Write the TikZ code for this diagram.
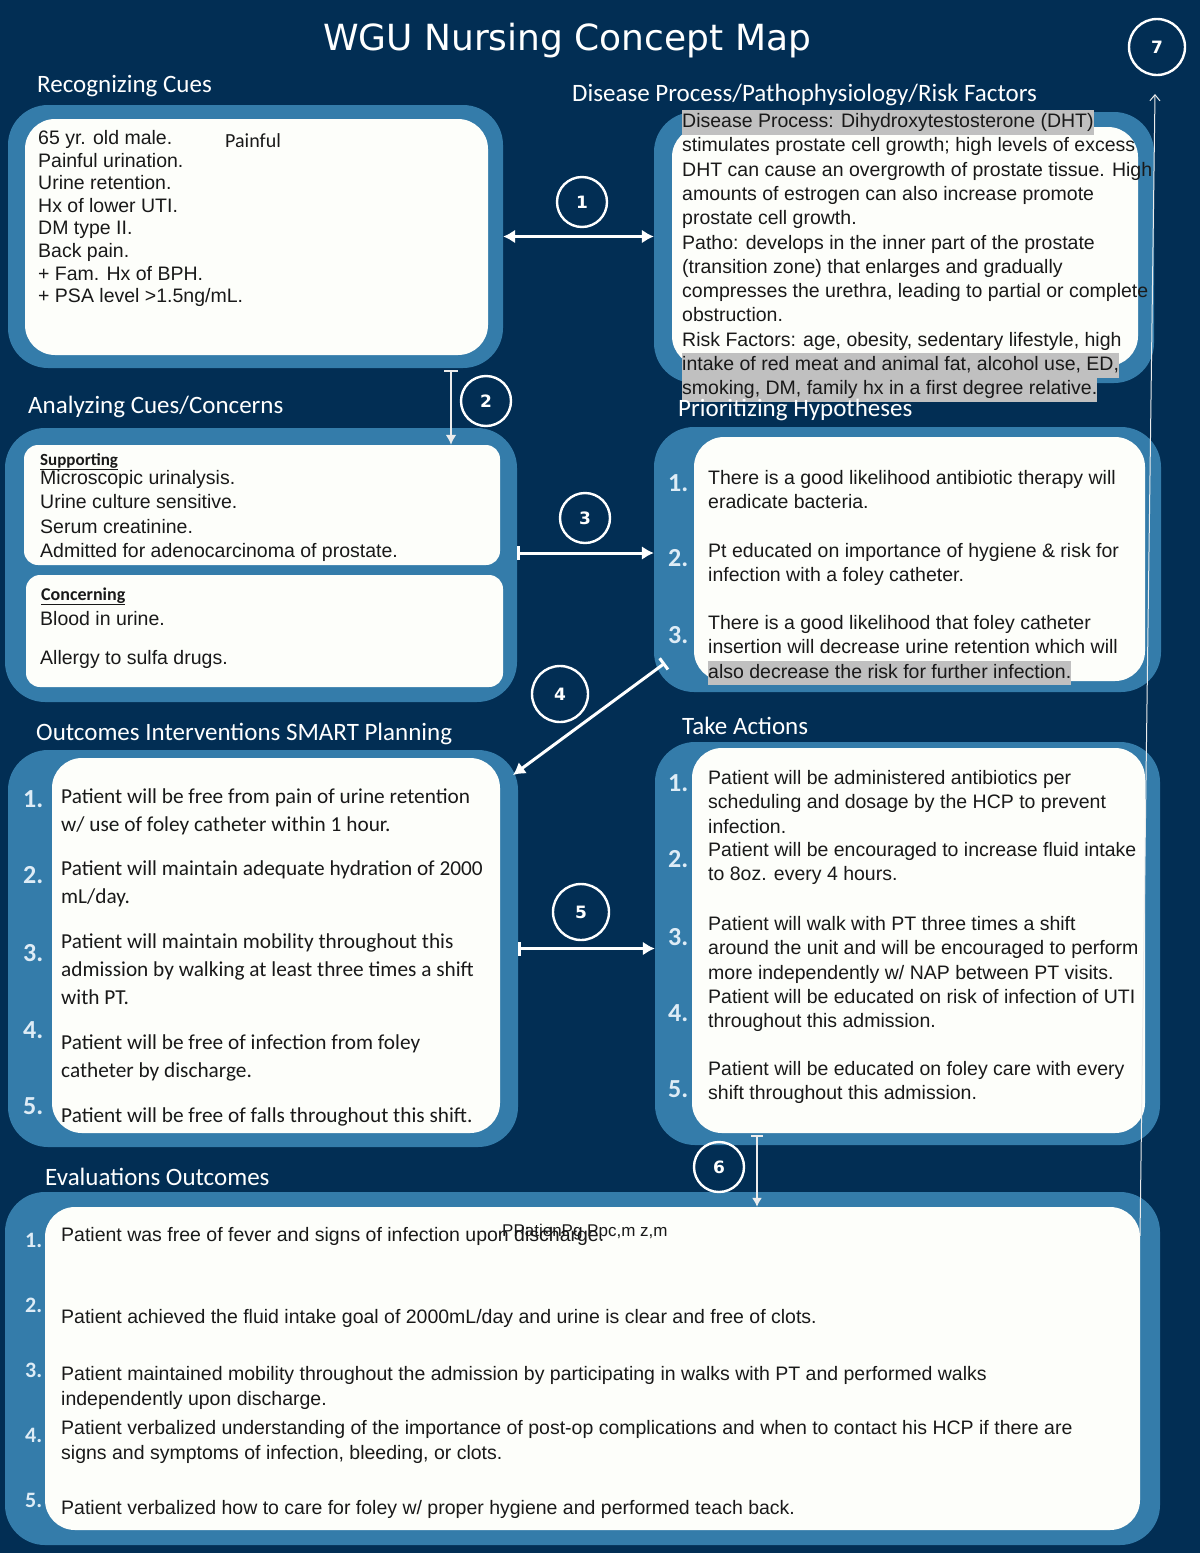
\documentclass[tikz,border=0pt]{standalone}
\usepackage{fontspec}
\setmainfont{Liberation Sans}
\newfontfamily\calib{Carlito}
\newfontfamily\headfont{DejaVu Sans}
\usetikzlibrary{arrows.meta}
\definecolor{navy}{RGB}{2,46,84}
\definecolor{ringblue}{RGB}{52,124,170}
\definecolor{paper}{RGB}{253,254,250}
\definecolor{hlgray}{RGB}{192,192,192}
\definecolor{ink}{RGB}{25,25,25}
\definecolor{numwhite}{RGB}{222,236,246}
\newcommand\hlt[1]{{\setlength\fboxsep{0pt}\colorbox{hlgray}{\strut#1}}}

\begin{document}
\begin{tikzpicture}[x=1pt,y=-1pt,
  ring/.style={fill=ringblue, rounded corners=40pt, inner sep=0pt},
  sheet/.style={fill=paper, rounded corners=30pt, inner sep=0pt},
  slip/.style={fill=paper, rounded corners=14pt, inner sep=0pt},
  body/.style={anchor=base west, align=left, inner sep=0pt, text=ink, font=\fontsize{19.5}{24.3}\selectfont},
  outline/.style={anchor=base west, align=left, inner sep=0pt, text=ink, font=\calib\fontsize{21.3}{28}\selectfont},
  heading/.style={anchor=base west, inner sep=0pt, text=white, font=\calib\fontsize{25}{25}\selectfont},
  num/.style={anchor=base west, inner sep=0pt, text=numwhite, font=\calib\bfseries\fontsize{26}{26}\selectfont},
  tag/.style={anchor=base west, inner sep=0pt, text=ink, font=\calib\bfseries\fontsize{17}{17}\selectfont},
  badge/.style={circle, draw=white, line width=2.4pt, minimum size=50pt, inner sep=0pt, text=white, font=\headfont\bfseries\fontsize{17}{17}\selectfont},
  fat/.style={draw=white, line width=3pt}]
  \useasboundingbox (0,0) rectangle (1200,1553);
  \fill[navy] (0,0) rectangle (1200,1553);

  \node[anchor=base, inner sep=0pt, text=white, font=\headfont\fontsize{36}{36}\selectfont] (title) at (567,50) {WGU Nursing Concept Map};
  \node[badge, minimum size=56pt] (n7) at (1157,47) {7};

  \node[heading] (h1) at (37,92) {Recognizing Cues};
  \node[heading] (h2) at (572,101) {Disease Process/Pathophysiology/Risk Factors};
  \node[heading] (h3) at (28,413) {Analyzing Cues/Concerns};
  \node[heading] (h5) at (36,740) {Outcomes Interventions SMART Planning};
  \node[heading] (h6) at (682,734) {Take Actions};
  \node[heading] (h7) at (45,1185) {Evaluations Outcomes};

  % boxes
  \node[ring, minimum width=495, minimum height=263] (cues) at (255.5,236.5) {};
  \node[sheet, minimum width=463, minimum height=236] (cuesin) at (256.5,237) {};
  \node[ring, minimum width=500, minimum height=271] (patho) at (904,247.5) {};
  \node[sheet, minimum width=466, minimum height=239] (pathoin) at (905,246.5) {};
  \node[ring, minimum width=512, minimum height=274] (analyze) at (261,565) {};
  \node[slip, minimum width=476, minimum height=120] (supin) at (262,505) {};
  \node[slip, minimum width=477, minimum height=112] (conin) at (264.5,631) {};
  \node[ring, minimum width=507, minimum height=265] (hypo) at (907.5,559.5) {};
  \node[sheet, minimum width=451, minimum height=244] (hypoin) at (919.5,559) {};
  \node[ring, minimum width=510, minimum height=397] (outcomes) at (263,948.5) {};
  \node[sheet, minimum width=448, minimum height=375] (outin) at (276,945.5) {};
  \node[ring, minimum width=505, minimum height=403] (actions) at (907.5,943.5) {};
  \node[sheet, minimum width=453, minimum height=385] (actin) at (918.5,940.5) {};
  \node[ring, minimum width=1155, minimum height=353] (evals) at (582.5,1368.5) {};
  \node[sheet, minimum width=1095, minimum height=323] (evalin) at (592.5,1368.5) {};

  % texts (anchored at the baseline of their last line)
  \node[body, font=\fontsize{19.5}{22.6}\selectfont] (cuestxt) at (38,302.7) {65 yr. old male.\\Painful urination.\\Urine retention.\\Hx of lower UTI.\\DM type II.\\Back pain.\\+ Fam. Hx of BPH.\\+ PSA level >1.5ng/mL.};
  \node[anchor=base west, inner sep=0pt, text=ink, font=\calib\fontsize{20}{20}\selectfont] (painful) at (225,147) {Painful};
  \node[body] (pathotxt) at (682,394.8) {\hlt{Disease Process: Dihydroxytestosterone (DHT)}\\stimulates prostate cell growth; high levels of excess\\DHT can cause an overgrowth of prostate tissue. High\\amounts of estrogen can also increase promote\\prostate cell growth.\\Patho: develops in the inner part of the prostate\\(transition zone) that enlarges and gradually\\compresses the urethra, leading to partial or complete\\obstruction.\\Risk Factors: age, obesity, sedentary lifestyle, high\\\hlt{intake of red meat and animal fat, alcohol use, ED,}\\\hlt{smoking, DM, family hx in a first degree relative.}};
  \node[heading] (h4) at (678,416) {Prioritizing Hypotheses};

  \node[tag] (suptag) at (40,465) {\underline{Supporting}};
  \node[body] (suptxt) at (40,557.4) {Microscopic urinalysis.\\Urine culture sensitive.\\Serum creatinine.\\Admitted for adenocarcinoma of prostate.};
  \node[tag, font=\calib\bfseries\fontsize{18}{18}\selectfont] (contag) at (41,600) {\underline{Concerning}};
  \node[body] (con1) at (40,625.5) {Blood in urine.};
  \node[body] (con2) at (40,664.5) {Allergy to sulfa drugs.};

  \foreach \n/\y in {1/491,2/566,3/643} {
    \node[num] (hn\n) at (668,\y) {\n.};
  }
  \node[body] (hy1) at (708,508.8) {There is a good likelihood antibiotic therapy will\\eradicate bacteria.};
  \node[body] (hy2) at (708,581.8) {Pt educated on importance of hygiene \& risk for\\infection with a foley catheter.};
  \node[body] (hy3) at (708,678.1) {There is a good likelihood that foley catheter\\insertion will decrease urine retention which will\\\hlt{also decrease the risk for further infection.}};

  \foreach \n/\y in {1/807.5,2/883.5,3/961.5,4/1038.5,5/1114.5} {
    \node[num] (on\n) at (23,\y) {\n.};
  }
  \node[outline] (ot1) at (61,831) {Patient will be free from pain of urine retention\\w/ use of foley catheter within 1 hour.};
  \node[outline] (ot2) at (61,903) {Patient will maintain adequate hydration of 2000\\mL/day.};
  \node[outline] (ot3) at (61,1004) {Patient will maintain mobility throughout this\\admission by walking at least three times a shift\\with PT.};
  \node[outline] (ot4) at (61,1077) {Patient will be free of infection from foley\\catheter by discharge.};
  \node[outline] (ot5) at (61,1122) {Patient will be free of falls throughout this shift.};

  \foreach \n/\y in {1/791.5,2/867.5,3/945.5,4/1021.5,5/1097.5} {
    \node[num] (an\n) at (668,\y) {\n.};
  }
  \node[body] (ac1) at (708,833.1) {Patient will be administered antibiotics per\\scheduling and dosage by the HCP to prevent\\infection.};
  \node[body] (ac2) at (708,880.8) {Patient will be encouraged to increase fluid intake\\to 8oz. every 4 hours.};
  \node[body] (ac3) at (708,979.1) {Patient will walk with PT three times a shift\\around the unit and will be encouraged to perform\\more independently w/ NAP between PT visits.};
  \node[body] (ac4) at (708,1027.8) {Patient will be educated on risk of infection of UTI\\throughout this admission.};
  \node[body] (ac5) at (708,1099.8) {Patient will be educated on foley care with every\\shift throughout this admission.};

  \foreach \n/\y in {1/1247,2/1312,3/1377,4/1442,5/1507} {
    \node[num, font=\calib\bfseries\fontsize{22}{22}\selectfont] (en\n) at (25,\y) {\n.};
  }
  \node[body, font=\fontsize{19.5}{25}\selectfont] (ev1) at (61,1241.5) {Patient was free of fever and signs of infection upon discharge.};
  \node[anchor=base west, inner sep=0pt, text=ink, font=\fontsize{17}{17}\selectfont] (ev1b) at (502,1236) {PPatienPg Ppc,m z,m};
  \node[body, font=\fontsize{19.5}{25}\selectfont] (ev2) at (61,1323.5) {Patient achieved the fluid intake goal of 2000mL/day and urine is clear and free of clots.};
  \node[body, font=\fontsize{19.5}{25}\selectfont] (ev3) at (61,1405.5) {Patient maintained mobility throughout the admission by participating in walks with PT and performed walks\\independently upon discharge.};
  \node[body, font=\fontsize{19.5}{25}\selectfont] (ev4) at (61,1459.5) {Patient verbalized understanding of the importance of post-op complications and when to contact his HCP if there are\\signs and symptoms of infection, bleeding, or clots.};
  \node[body, font=\fontsize{19.5}{25}\selectfont] (ev5) at (61,1514.5) {Patient verbalized how to care for foley w/ proper hygiene and performed teach back.};

  % links
  \node[badge] (n1) at (582,202) {1};
  \node[badge] (n2) at (486,401) {2};
  \node[badge] (n3) at (585,518) {3};
  \node[badge, minimum size=56pt] (n4) at (560,694) {4};
  \node[badge, minimum size=56pt] (n5) at (581,912) {5};
  \node[badge] (n6) at (719,1167) {6};
  \coordinate (j2) at (451,370);
  \coordinate (j3) at (517,553);
  \coordinate (j4a) at (665,663);
  \coordinate (j4b) at (513,775);
  \coordinate (j6) at (757,1135);
  \coordinate (j7a) at (1140,1236);
  \coordinate (j7b) at (1155,94);
  \draw[fat, {Latex[length=12pt,width=14pt]}-{Latex[length=12pt,width=14pt]}] (cues.east) -- (cues.east -| patho.west);
  \draw[draw=white!85!gray, line width=2pt, {Bar[width=14pt]}-{Latex[length=10pt,width=11pt]}] (j2) -- (j2 |- supin.north);
  \draw[fat, {Bar[width=14pt]}-{Latex[length=12pt,width=14pt]}] (j3) -- (j3 -| hypo.west);
  \draw[fat, {Bar[width=14pt]}-{Latex[length=12pt,width=14pt]}] (j4a) -- (j4b);
  \draw[fat, {Bar[width=14pt]}-{Latex[length=12pt,width=14pt]}] (outcomes.east) -- (outcomes.east -| actions.west);
  \draw[draw=white!85!gray, line width=1.5pt, {Bar[width=12pt]}-{Latex[length=9pt,width=10pt]}] (j6) -- (j6 |- evalin.north);
  \draw[draw=white!85!gray, line width=1pt, -{Straight Barb[length=6pt,width=10pt]}] (j7a) -- (j7b);
\end{tikzpicture}
\end{document}
